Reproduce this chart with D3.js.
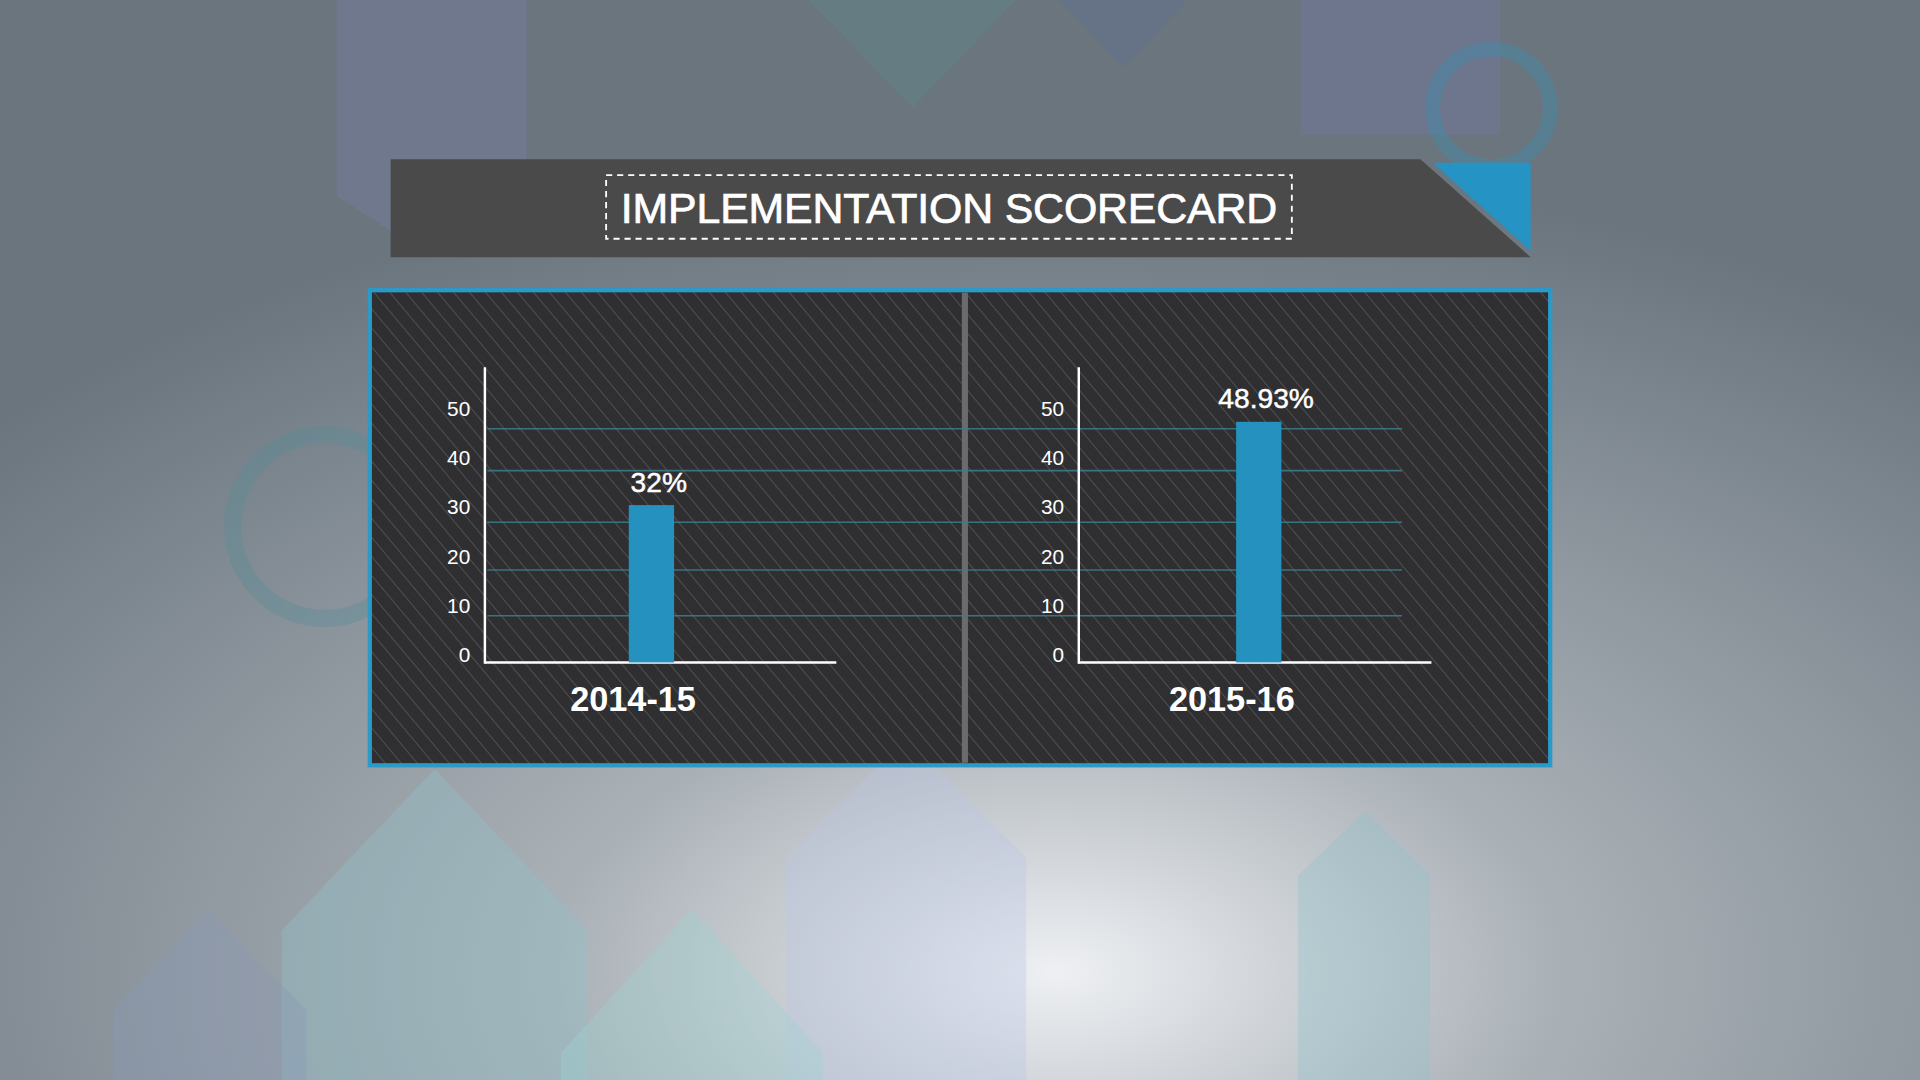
<!DOCTYPE html>
<html>
<head>
<meta charset="UTF-8">
<title>Implementation Scorecard</title>
<script src="https://cdn.jsdelivr.net/npm/d3@7"></script>
<style>
    body { margin:0; overflow:hidden; background:#6f7a82; }
    .tick-lbl { font-family: 'Liberation Sans', Arial, sans-serif; font-size:17px; fill:#fff; }
    .cat { font-family: 'Liberation Sans', Arial, sans-serif; font-size:28px; fill:#fff; font-weight:bold; }
    .val { font-family: 'Liberation Sans', Arial, sans-serif; font-size:23px; fill:#fff; stroke:#fff; stroke-width:0.4; }
    .title { font-family: 'Liberation Sans', Arial, sans-serif; font-size:35px; fill:#fff; stroke:#fff; stroke-width:0.6; }
</style>
</head>
<body>
<script>

var years = ["2014-15", "2015-16"];
var scores = [32, 48.93];
var valueLabels = ["32%", "48.93%"];
var yTicks = [0, 10, 20, 30, 40, 50];
var gridValues = [9.5, 18.8, 28.5, 39, 47.5];
var titleText = "IMPLEMENTATION SCORECARD";

var W = 1568, H = 882;

var svg = d3.select("body").append("svg")
    .attr("width", 1920)
    .attr("height", 1080)
    .attr("viewBox", "0 0 " + W + " " + H);

var defs = svg.append("defs");
var bg = defs.append("radialGradient").attr("id", "bg")
    .attr("cx", 0.55).attr("cy", 0.9).attr("r", 0.75);
bg.append("stop").attr("offset", "0%").attr("stop-color", "#eef0f3");
bg.append("stop").attr("offset", "35%").attr("stop-color", "#a9b0b6");
bg.append("stop").attr("offset", "100%").attr("stop-color", "#6a757e");

var hatch = defs.append("pattern").attr("id", "hatch")
    .attr("patternUnits", "userSpaceOnUse")
    .attr("width", 10).attr("height", 10)
    .attr("patternTransform", "rotate(-40)");
hatch.append("rect").attr("width", 10).attr("height", 10).attr("fill", "#2f2f31");
hatch.append("line").attr("x1", 0).attr("y1", 0).attr("x2", 0).attr("y2", 10)
    .attr("stroke", "#5a5a5e").attr("stroke-width", 1.2);

svg.append("rect").attr("width", W).attr("height", H).attr("fill", "url(#bg)");

// faint decorative shapes
var deco = [
    {pts: "230,760 355,628 480,760 480,882 230,882", c: "#8fc3cc"},
    {pts: "92,825 170,742 250,825 250,882 92,882", c: "#8a99b8"},
    {pts: "642,700 740,602 838,700 838,882 642,882", c: "#b9c6e4"},
    {pts: "458,860 565,742 672,860 672,882 458,882", c: "#9fd3d2"},
    {pts: "1060,715 1115,662 1168,715 1168,882 1060,882", c: "#8fc3cc"},
    {pts: "275,0 430,0 430,160 352,210 275,160", c: "#7b7fa8"},
    {pts: "660,0 830,0 745,88", c: "#5d8a8c"},
    {pts: "865,0 970,0 918,55", c: "#5f6f94"},
    {pts: "1062,0 1225,0 1225,110 1062,110", c: "#7478a6"}
];
svg.selectAll(".deco").data(deco).enter().append("polygon")
    .attr("points", function(d){ return d.pts; })
    .attr("fill", function(d){ return d.c; })
    .attr("opacity", 0.35);
svg.append("circle").attr("cx", 265).attr("cy", 430).attr("r", 75)
    .attr("fill", "none").attr("stroke", "#5b8c98").attr("stroke-width", 14).attr("opacity", 0.4);
svg.append("circle").attr("cx", 1218).attr("cy", 88).attr("r", 48)
    .attr("fill", "none").attr("stroke", "#3f8fb0").attr("stroke-width", 12).attr("opacity", 0.4);

// title banner
svg.append("polygon").attr("points", "319,130 1160,130 1250,210 319,210").attr("fill", "#4a4a4b");
svg.append("polygon").attr("points", "1170,133 1250,133 1250,205").attr("fill", "#2593c3");
svg.append("rect").attr("x", 495).attr("y", 143).attr("width", 560).attr("height", 52)
    .attr("fill", "none").attr("stroke", "#fff").attr("stroke-width", 1.5).attr("stroke-dasharray", "5,4");
svg.append("text").attr("class", "title").attr("x", 775).attr("y", 182)
    .attr("text-anchor", "middle").attr("textLength", 536).text(titleText);

// panel
svg.append("rect").attr("x", 302).attr("y", 237).attr("width", 964).attr("height", 388)
    .attr("fill", "url(#hatch)").attr("stroke", "#2a9ac9").attr("stroke-width", 3.5);
svg.append("line").attr("x1", 788).attr("x2", 788).attr("y1", 239).attr("y2", 623)
    .attr("stroke", "#6b6b6d").attr("stroke-width", 5);

var y = d3.scaleLinear().domain([0, 60]).range([541, 300]);

// grid lines across both charts
svg.selectAll(".grid").data(gridValues).enter().append("line")
    .attr("x1", 398).attr("x2", 1145)
    .attr("y1", function(d){ return y(d); }).attr("y2", function(d){ return y(d); })
    .attr("stroke", "#3c7f8e").attr("stroke-width", 1.3).attr("opacity", 0.85);

var charts = [{x0: 396, x1: 683}, {x0: 881, x1: 1169}];

charts.forEach(function(c, i) {
    var g = svg.append("g");
    var x = d3.scaleBand().domain([years[i]]).range([c.x0, c.x1]).paddingInner(0);
    var bw = 37;
    var cx = c.x0 + (i === 0 ? 136 : 147);

    var yAxis = d3.axisLeft(y).tickValues(yTicks).tickSize(0).tickPadding(12);
    var ag = g.append("g").attr("transform", "translate(" + c.x0 + ",0)").call(yAxis);
    ag.select(".domain").remove();
    ag.selectAll("text").attr("class", "tick-lbl").attr("dy", "-0.05em");

    g.append("line").attr("x1", c.x0).attr("x2", c.x0).attr("y1", 300).attr("y2", 542)
        .attr("stroke", "#fff").attr("stroke-width", 2);
    g.append("line").attr("x1", c.x0).attr("x2", c.x1).attr("y1", 541).attr("y2", 541)
        .attr("stroke", "#fff").attr("stroke-width", 2);

    g.append("rect").attr("x", cx - bw / 2).attr("width", bw)
        .attr("y", y(scores[i])).attr("height", y(0) - y(scores[i]))
        .attr("fill", "#2491bf");
    g.append("text").attr("class", "val").attr("x", cx + 6).attr("y", y(scores[i]) - 11)
        .attr("text-anchor", "middle").text(valueLabels[i]);
    g.append("text").attr("class", "cat").attr("x", x(years[i]) + (i === 0 ? 121 : 125)).attr("y", 581)
        .attr("text-anchor", "middle").text(years[i]);
});
</script>
</body>
</html>
